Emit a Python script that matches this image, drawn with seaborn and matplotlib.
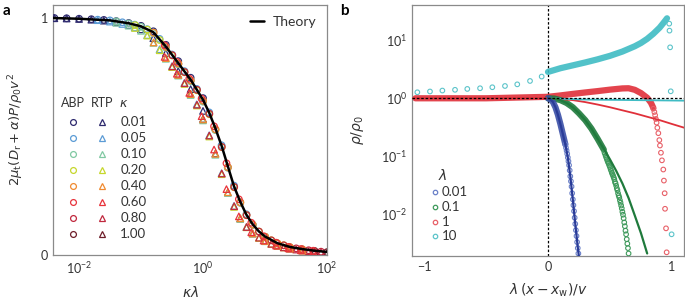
import numpy as np
import pandas as pd
import matplotlib
matplotlib.use("Agg")
import matplotlib.pyplot as plt
import seaborn as sns
from matplotlib.lines import Line2D
from matplotlib.ticker import FixedLocator, LogLocator, NullFormatter, LogFormatterSciNotation

# ---------------- panel a data ----------------
kappa = [0.01, 0.05, 0.1, 0.2, 0.4, 0.6, 0.8, 1.0]
kappa_labels = ["0.01", "0.05", "0.10", "0.20", "0.40", "0.60", "0.80", "1.00"]
kappa_colors = ["#2e2a6e", "#5b9bd5", "#80c8a2", "#c6d72c", "#f08a30",
                "#e8343c", "#c0283e", "#6e1e2a"]
lam_a = [0.4, 0.63, 1.0, 1.58, 2.51, 3.98, 6.31, 10.0, 15.8, 25.1, 39.8, 63.1, 100.0]

abp_001 = [1.00, 0.999, 0.997, 0.995, 0.992, 0.987, 0.979, 0.967, 0.944, 0.887, 0.818, 0.748, 0.662]
rtp_001 = [0.999, 0.998, 0.996, 0.993, 0.989, 0.982, 0.970, 0.952, 0.915, 0.852, 0.776, 0.700, 0.608]
abp_005 = [0.993, 0.990, 0.982, 0.972, 0.953, 0.912, 0.846, 0.776, 0.701, 0.602, 0.463, 0.293, 0.172]
rtp_005 = [0.991, 0.985, 0.975, 0.960, 0.928, 0.868, 0.797, 0.726, 0.636, 0.505, 0.345, 0.207, 0.118]
abp_010 = [0.986, 0.977, 0.963, 0.936, 0.875, 0.805, 0.733, 0.647, 0.527, 0.368, 0.220, 0.128, 0.076]
rtp_010 = [0.980, 0.968, 0.946, 0.895, 0.828, 0.757, 0.675, 0.568, 0.423, 0.262, 0.152, 0.090, 0.058]
abp_020 = [0.970, 0.951, 0.907, 0.842, 0.771, 0.695, 0.594, 0.455, 0.286, 0.168, 0.099, 0.062, 0.041]
rtp_020 = [0.958, 0.926, 0.864, 0.793, 0.722, 0.631, 0.500, 0.341, 0.203, 0.117, 0.072, 0.047, 0.032]
abp_040 = [0.938, 0.878, 0.808, 0.737, 0.651, 0.530, 0.370, 0.222, 0.128, 0.077, 0.049, 0.033, 0.024]
rtp_040 = [0.897, 0.831, 0.760, 0.679, 0.572, 0.427, 0.265, 0.155, 0.091, 0.059, 0.039, 0.027, 0.019]
abp_060 = [0.885, 0.815, 0.744, 0.660, 0.543, 0.387, 0.235, 0.136, 0.079, 0.052, 0.034, 0.025, 0.018]
rtp_060 = [0.836, 0.765, 0.684, 0.586, 0.445, 0.278, 0.163, 0.096, 0.061, 0.040, 0.028, 0.020, 0.014]
abp_080 = [0.843, 0.772, 0.697, 0.596, 0.456, 0.287, 0.168, 0.099, 0.062, 0.041, 0.028, 0.020, 0.014]
rtp_080 = [0.796, 0.725, 0.634, 0.504, 0.344, 0.206, 0.118, 0.073, 0.047, 0.032, 0.023, 0.016, 0.011]
abp_100 = [0.806, 0.736, 0.650, 0.530, 0.370, 0.222, 0.128, 0.077, 0.049, 0.033, 0.024, 0.017, 0.012]
rtp_100 = [0.760, 0.680, 0.574, 0.428, 0.264, 0.154, 0.091, 0.059, 0.039, 0.027, 0.019, 0.013, 0.009]

abp_all = [abp_001, abp_005, abp_010, abp_020, abp_040, abp_060, abp_080, abp_100]
rtp_all = [rtp_001, rtp_005, rtp_010, rtp_020, rtp_040, rtp_060, rtp_080, rtp_100]

theory_x = [0.0038, 0.01, 0.0316, 0.063, 0.1, 0.158, 0.251, 0.398, 0.631, 1.0, 1.26, 1.58,
            2.0, 2.51, 3.16, 3.98, 5.01, 6.31, 7.94, 10.0, 15.8, 25.1, 39.8, 63.1, 100.0]
theory_y = [1.0, 0.997, 0.99, 0.978, 0.965, 0.94, 0.88, 0.81, 0.74, 0.655, 0.60, 0.535,
            0.46, 0.375, 0.29, 0.225, 0.17, 0.13, 0.10, 0.078, 0.05, 0.034, 0.025, 0.018, 0.013]

# ---------------- panel b data ----------------
lam_b_labels = ["0.01", "0.1", "1", "10"]
col_blue, col_green, col_red, col_cyan = "#3b50a8", "#1f7a3c", "#e0303a", "#3fbcc4"

blue_line_x = [0.0, 0.02, 0.04, 0.06, 0.08, 0.1, 0.12, 0.14, 0.16, 0.18, 0.2, 0.22, 0.24, 0.25]
blue_line_y = [1.0, 0.96, 0.86, 0.70, 0.52, 0.36, 0.24, 0.16, 0.095, 0.045, 0.018, 0.0068, 0.0027, 0.0018]
blue_band_x = [0.0, 0.02, 0.04, 0.06, 0.08, 0.1, 0.12, 0.14]
blue_band_y = [1.0, 0.96, 0.86, 0.70, 0.52, 0.36, 0.24, 0.16]
blue_pts_x = [0.14, 0.145, 0.15, 0.155, 0.16, 0.165, 0.17, 0.175, 0.18, 0.185, 0.19,
              0.195, 0.2, 0.205, 0.21, 0.215, 0.22, 0.225, 0.23, 0.235, 0.24, 0.245]
blue_pts_y = [0.16, 0.14, 0.125, 0.11, 0.095, 0.082, 0.07, 0.057, 0.045, 0.037, 0.03,
              0.023, 0.018, 0.0143, 0.0113, 0.0087, 0.0068, 0.0053, 0.0042, 0.0033, 0.0026, 0.0021]

green_line_x = [0.0, 0.05, 0.1, 0.15, 0.2, 0.25, 0.3, 0.35, 0.4, 0.45, 0.5, 0.55, 0.6, 0.65, 0.7, 0.75, 0.8]
green_line_y = [1.0, 0.99, 0.93, 0.83, 0.70, 0.55, 0.42, 0.30, 0.20, 0.135, 0.088, 0.056, 0.034,
                0.019, 0.0095, 0.0047, 0.0021]
green_band_x = [0.0, 0.05, 0.1, 0.15, 0.2, 0.25, 0.3, 0.35, 0.4, 0.45]
green_band_y = [1.0, 0.99, 0.93, 0.83, 0.70, 0.55, 0.42, 0.30, 0.20, 0.13]
green_pts_x = [0.455, 0.46, 0.465, 0.47, 0.475, 0.48, 0.485, 0.49, 0.495, 0.5, 0.505, 0.51,
               0.515, 0.52, 0.525, 0.53, 0.535, 0.54, 0.545, 0.55, 0.555, 0.56, 0.565, 0.57,
               0.575, 0.58, 0.585, 0.59, 0.595, 0.6, 0.605, 0.61, 0.615, 0.62, 0.625, 0.63,
               0.635, 0.64, 0.645, 0.65]
green_pts_y = [0.117, 0.110, 0.102, 0.095, 0.089, 0.083, 0.078, 0.074, 0.069, 0.065, 0.060, 0.056,
               0.052, 0.049, 0.046, 0.043, 0.040, 0.036, 0.034, 0.031, 0.028, 0.026, 0.023, 0.021,
               0.0195, 0.0174, 0.0158, 0.0141, 0.0126, 0.011, 0.0098, 0.0085, 0.0072, 0.0062,
               0.0052, 0.0045, 0.0037, 0.0031, 0.0026, 0.0021]

red_line_x = [-1.1, 0.0, 0.1, 0.2, 0.3, 0.4, 0.5, 0.6, 0.7, 0.8, 0.9, 1.0, 1.1]
red_line_y = [1.0, 1.0, 0.97, 0.93, 0.86, 0.78, 0.70, 0.62, 0.55, 0.48, 0.42, 0.36, 0.31]
red_band_x = [-1.07, -0.5, 0.0, 0.1, 0.2, 0.3, 0.4, 0.5, 0.6, 0.65, 0.7, 0.75, 0.8, 0.83, 0.85]
red_band_y = [1.0, 1.0, 1.06, 1.12, 1.19, 1.26, 1.33, 1.41, 1.48, 1.49, 1.40, 1.23, 1.02, 0.84, 0.68]
red_pts_x = [0.85, 0.858, 0.864, 0.87, 0.876, 0.882, 0.89, 0.898, 0.903, 0.911, 0.919,
             0.93, 0.935, 0.941, 0.944, 0.952, 0.957]
red_pts_y = [0.66, 0.58, 0.51, 0.44, 0.38, 0.31, 0.25, 0.19, 0.153, 0.115, 0.085,
             0.059, 0.038, 0.023, 0.0124, 0.0057, 0.0022]

cyan_line_x = [0.0, 0.3, 0.7, 1.1]
cyan_line_y = [1.0, 0.95, 0.93, 0.91]
cyan_band_x = [0.0, 0.1, 0.2, 0.3, 0.4, 0.5, 0.6, 0.7, 0.75, 0.8, 0.85, 0.9, 0.93, 0.95, 0.96]
cyan_band_y = [2.85, 3.3, 3.7, 4.15, 4.7, 5.4, 6.4, 7.9, 9.0, 10.6, 13.0, 16.5, 19.8, 22.5, 24.0]
cyan_pts_x = [-1.054, -0.952, -0.852, -0.75, -0.651, -0.548, -0.449, -0.347, -0.248, -0.145, -0.051,
              0.978, 0.98, 0.985, 0.99, 0.997]
cyan_pts_y = [1.27, 1.31, 1.36, 1.40, 1.45, 1.49, 1.55, 1.63, 1.74, 1.99, 2.37,
              19.4, 14.7, 7.57, 1.32, 0.0045]

# ---------------- styling ----------------
sns.set_theme(style="white")
plt.rcParams["font.family"] = ["Lato", "DejaVu Sans"]
plt.rcParams["mathtext.fontset"] = "dejavusans"
TXT = "#333333"
SPN = "#8a8a8a"

fig = plt.figure(figsize=(6.85, 2.98), dpi=100)
ax_a = fig.add_axes([53 / 685, 43 / 298, 274 / 685, 250 / 298])
ax_b = fig.add_axes([412 / 685, 42 / 298, 272 / 685, 251 / 298])

for ax in (ax_a, ax_b):
    for s in ax.spines.values():
        s.set_color(SPN)
        s.set_linewidth(0.9)
    ax.tick_params(which="both", direction="in", color=SPN, labelcolor=TXT,
                   labelsize=9, top=False, right=False)
    ax.tick_params(which="major", length=4, width=0.8)
    ax.tick_params(which="minor", length=2, width=0.6)

# ---------------- panel a ----------------
ax_a.set_xscale("log")
draw_order = [7, 0, 1, 2, 3, 6, 4, 5]
for i in draw_order:
    k, c, ya, yr = kappa[i], kappa_colors[i], abp_all[i], rtp_all[i]
    xk = [k * l for l in lam_a]
    sns.scatterplot(x=xk, y=yr, ax=ax_a, marker="^", s=22, facecolor="none",
                    edgecolor=c, linewidth=0.9, legend=False, zorder=3)
    sns.scatterplot(x=xk, y=ya, ax=ax_a, marker="o", s=22, facecolor="none",
                    edgecolor=c, linewidth=0.9, legend=False, zorder=3)
sns.lineplot(x=theory_x, y=theory_y, ax=ax_a, color="black", lw=1.8, zorder=5,
             estimator=None, sort=False)
ax_a.set_xlim(0.0038, 100)
ax_a.set_ylim(0, 1.055)
ax_a.xaxis.set_major_locator(FixedLocator([1e-2, 1, 1e2]))
ax_a.xaxis.set_major_formatter(LogFormatterSciNotation())
ax_a.xaxis.set_minor_locator(LogLocator(base=10, subs=np.arange(1, 10), numticks=20))
ax_a.xaxis.set_minor_formatter(NullFormatter())
ax_a.set_yticks([0, 1])
ax_a.set_yticklabels(["0", "1"])
ax_a.set_xlabel(r"$\kappa\lambda$", color=TXT, fontsize=10, labelpad=6)
ax_a.set_ylabel(r"$2\mu_{\rm t}(D_{\rm r}+\alpha)P/\rho_0 v^2$", color=TXT, fontsize=9.5, labelpad=11)

ax_a.legend(handles=[Line2D([], [], color="black", lw=1.8)], labels=["Theory"],
            loc="upper right", frameon=False, handlelength=1.0, handletextpad=0.6,
            fontsize=10, borderaxespad=0.4, labelcolor=TXT)

# table legend
row_y = [0.532, 0.468, 0.404, 0.340, 0.276, 0.212, 0.148, 0.084]
ax_a.text(0.073, 0.608, "ABP", transform=ax_a.transAxes, ha="center", va="center", fontsize=9, color=TXT)
ax_a.text(0.179, 0.608, "RTP", transform=ax_a.transAxes, ha="center", va="center", fontsize=9, color=TXT)
ax_a.text(0.259, 0.608, r"$\kappa$", transform=ax_a.transAxes, ha="center", va="center", fontsize=9, color=TXT)
for yy, c, lab in zip(row_y, kappa_colors, kappa_labels):
    ax_a.plot([0.073], [yy], marker="o", ms=4.2, mfc="none", mec=c, mew=0.9, transform=ax_a.transAxes)
    ax_a.plot([0.179], [yy], marker="^", ms=4.2, mfc="none", mec=c, mew=0.9, transform=ax_a.transAxes)
    ax_a.text(0.245, yy, lab, transform=ax_a.transAxes, ha="left", va="center", fontsize=9.5, color=TXT)

# ---------------- panel b ----------------
ax_b.set_yscale("log")
ax_b.axvline(0, color="black", lw=0.9, ls=(0, (2, 1.5)), zorder=1)

band_kw = dict(lw=4.5, alpha=0.9, estimator=None, sort=False, solid_capstyle="round")
sns.lineplot(x=red_band_x, y=red_band_y, ax=ax_b, color=col_red, zorder=2, **band_kw)
sns.lineplot(x=cyan_band_x, y=cyan_band_y, ax=ax_b, color=col_cyan, zorder=2, **band_kw)
sns.lineplot(x=green_band_x, y=green_band_y, ax=ax_b, color=col_green, zorder=2, **band_kw)
sns.lineplot(x=blue_band_x, y=blue_band_y, ax=ax_b, color=col_blue, zorder=2, **band_kw)

pt_kw = dict(marker="o", s=11, facecolor="none", linewidth=0.8, legend=False, zorder=3)
sns.scatterplot(x=red_pts_x, y=red_pts_y, ax=ax_b, edgecolor="#e86068", **pt_kw)
sns.scatterplot(x=cyan_pts_x, y=cyan_pts_y, ax=ax_b, edgecolor="#5cc4ca", **pt_kw)
sns.scatterplot(x=green_pts_x, y=green_pts_y, ax=ax_b, edgecolor="#3f9a5c", **pt_kw)
sns.scatterplot(x=blue_pts_x, y=blue_pts_y, ax=ax_b, edgecolor="#6a80c8", **pt_kw)

line_kw = dict(lw=1.3, estimator=None, sort=False, zorder=4)
sns.lineplot(x=red_line_x, y=red_line_y, ax=ax_b, color=col_red, **line_kw)
sns.lineplot(x=cyan_line_x, y=cyan_line_y, ax=ax_b, color=col_cyan, **line_kw)
sns.lineplot(x=green_line_x, y=green_line_y, ax=ax_b, color=col_green, lw=1.6, estimator=None, sort=False, zorder=4)
sns.lineplot(x=blue_line_x, y=blue_line_y, ax=ax_b, color="#2a3c98", lw=1.6, estimator=None, sort=False, zorder=4)
ax_b.axhline(1, color="black", lw=0.9, ls=(0, (2, 1.5)), zorder=5)

ax_b.set_xlim(-1.097, 1.097)
ax_b.set_ylim(0.0019, 40.7)
ax_b.set_xticks([-1, 0, 1])
ax_b.set_xticklabels(["\u22121", "0", "1"])
ax_b.yaxis.set_major_locator(LogLocator(base=10, numticks=10))
ax_b.yaxis.set_minor_locator(LogLocator(base=10, subs=np.arange(2, 10), numticks=20))
ax_b.yaxis.set_minor_formatter(NullFormatter())
ax_b.set_xlabel(r"$\lambda\,(x-x_{\rm w})/v$", color=TXT, fontsize=10, labelpad=6)
ax_b.set_ylabel(r"$\rho/\rho_0$", color=TXT, fontsize=10, labelpad=11)

# lambda legend
ax_b.text(0.114, 0.323, r"$\lambda$", transform=ax_b.transAxes, ha="center", va="center", fontsize=10, color=TXT)
leg_b_y = [0.254, 0.194, 0.137, 0.080]
leg_b_cols = ["#6a80c8", "#3f9a5c", "#e86068", "#5cc4ca"]
for yy, c, lab in zip(leg_b_y, leg_b_cols, lam_b_labels):
    ax_b.plot([0.0846], [yy], marker="o", ms=3.2, mfc="none", mec=c, mew=0.9, transform=ax_b.transAxes)
    ax_b.text(0.108, yy, lab, transform=ax_b.transAxes, ha="left", va="center", fontsize=9.5, color=TXT)

fig.text(0.004, 0.985, "a", fontsize=11, fontweight="bold", va="top", ha="left", color="black")
fig.text(0.497, 0.985, "b", fontsize=11, fontweight="bold", va="top", ha="left", color="black")

fig.savefig("out.png", dpi=100)
